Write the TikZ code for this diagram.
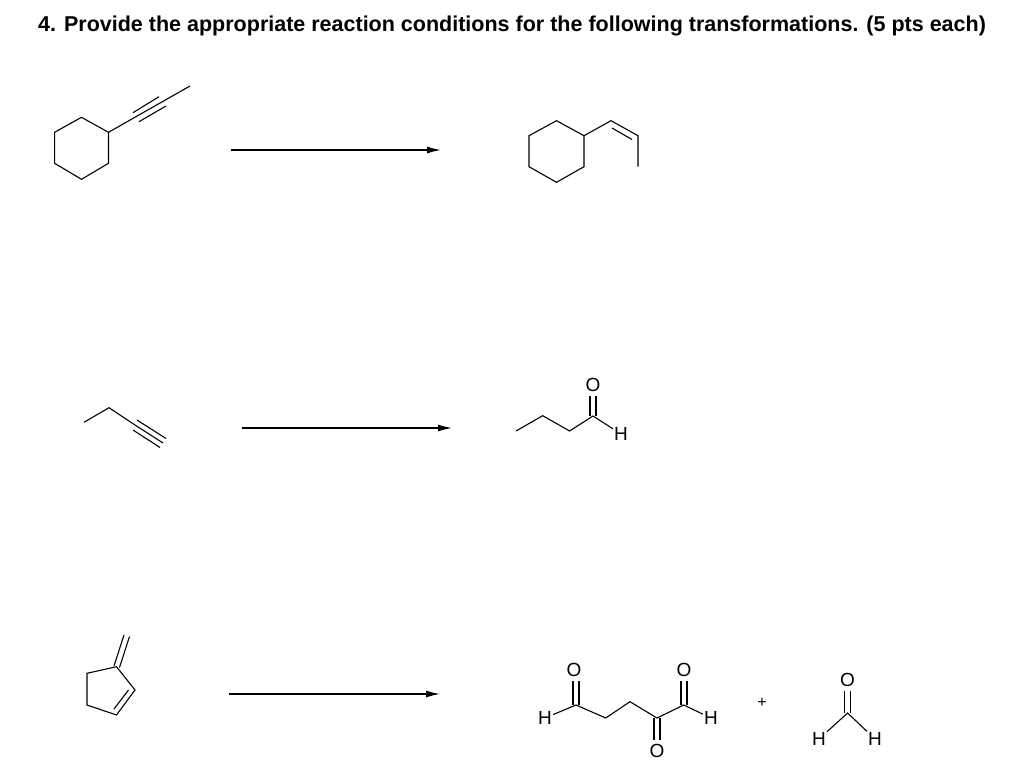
\documentclass[tikz,border=0pt]{standalone}
\usepackage{fontspec}
\setmainfont{Liberation Sans}
\usetikzlibrary{arrows.meta}
\begin{document}
\begin{tikzpicture}[x=1pt,y=-1pt,
  bond/.style={line width=1.1pt},
  rxn/.style={line width=1.2pt,-{Latex[length=14pt,width=7pt]}},
  atom/.style={font=\fontsize{19}{19}\selectfont,inner sep=1pt}]
\useasboundingbox (0,0) rectangle (1024,767);
\node[anchor=west,font=\bfseries\fontsize{21.5}{22}\selectfont,inner sep=0] (title) at (38,26) {4. Provide the appropriate reaction conditions for the following transformations. (5 pts each)};
% row 1
\draw[bond] (81.5,117.3)--(108.5,132.3)--(108.5,163.3)--(81.5,179.3)--(54.6,163.3)--(54.6,132.3)--cycle;
\draw[bond] (108.5,132.3)--(190,86);
\draw[bond] (133,112.7)--(159,96.7) (139,121.7)--(166,106);
\coordinate (a1) at (231,150); \coordinate (b1) at (441,150);
\draw[rxn] (a1)--(b1);
\draw[bond] (556.5,120.7)--(584,135.7)--(584,166.7)--(556.5,182.3)--(529,166.7)--(529,135.7)--cycle;
\draw[bond] (584,135.7)--(611,120.7)--(638,135.7)--(638,166.7);
\draw[bond] (612,128)--(632,139.5);
% row 2
\draw[bond] (84,422.3)--(109,407.7)--(135,425)--(163,443);
\draw[bond] (137,420)--(166,438.5) (133,430)--(160,447.5);
\coordinate (a2) at (242,428); \coordinate (b2) at (452,428);
\draw[rxn] (a2)--(b2);
\node[atom] (o2) at (593,385) {O};
\node[atom] (h2) at (621,434) {H};
\draw[bond] (516,431)--(542.7,415.7)--(569.6,431)--(593,416)--(h2);
\draw[bond] (590,416)--(590,396) (596,416)--(596,396);
% row 3
\draw[bond] (116.5,666.7)--(87,673.3)--(87,705)--(116.5,715)--(135,690)--cycle;
\draw[bond] (114,666)--(124,635) (119.5,667.5)--(129.5,636.5);
\draw[bond] (114,709)--(128.5,690);
\coordinate (a3) at (229,694); \coordinate (b3) at (440,694);
\draw[rxn] (a3)--(b3);
\node[atom] (h3a) at (545,718) {H};
\node[atom] (o3a) at (574,670) {O};
\node[atom] (o3b) at (684,670) {O};
\node[atom] (o3c) at (657,751) {O};
\node[atom] (h3b) at (711,718) {H};
\draw[bond] (h3a)--(576,705)--(605.7,718)--(630,701.7)--(657,718)--(683.7,705)--(h3b);
\draw[bond] (573,705)--(573,681) (579,705)--(579,681);
\draw[bond] (681,705)--(681,681) (687,705)--(687,681);
\draw[bond] (654,718)--(654,740) (660,718)--(660,740);
\node[font=\fontsize{16}{16}\selectfont] (plus) at (762,703) {+};
\node[atom] (o4) at (847.6,680) {O};
\node[atom] (h4a) at (819,739) {H};
\node[atom] (h4b) at (875,739) {H};
\coordinate (c4) at (847.6,713);
\draw[bond] (h4a)--(c4)--(h4b);
\draw[bond] (844.6,713)--(844.6,691) (850.6,713)--(850.6,691);
\end{tikzpicture}
\end{document}
